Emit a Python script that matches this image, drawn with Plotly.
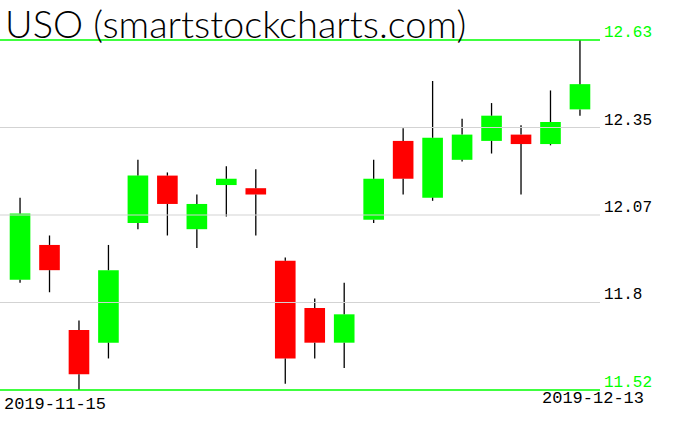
import plotly.graph_objects as go

# USO daily candles
dates = ["2019-11-15", "2019-11-18", "2019-11-19", "2019-11-20", "2019-11-21",
         "2019-11-22", "2019-11-25", "2019-11-26", "2019-11-27", "2019-11-29",
         "2019-12-02", "2019-12-03", "2019-12-04", "2019-12-05", "2019-12-06",
         "2019-12-09", "2019-12-10", "2019-12-11", "2019-12-12", "2019-12-13"]
opens = [11.87, 11.98, 11.71, 11.67, 12.05, 12.20, 12.03, 12.17, 12.16, 11.93,
         11.78, 11.67, 12.06, 12.31, 12.13, 12.25, 12.31, 12.33, 12.30, 12.41]
highs = [12.13, 12.01, 11.74, 11.98, 12.25, 12.21, 12.14, 12.23, 12.22, 11.94,
         11.81, 11.86, 12.25, 12.35, 12.50, 12.38, 12.43, 12.36, 12.47, 12.63]
lows = [11.86, 11.83, 11.52, 11.62, 12.03, 12.01, 11.97, 12.07, 12.01, 11.54,
        11.62, 11.59, 12.05, 12.14, 12.12, 12.245, 12.27, 12.14, 12.296, 12.39]
closes = [12.08, 11.90, 11.57, 11.90, 12.20, 12.11, 12.11, 12.19, 12.14, 11.62,
          11.67, 11.76, 12.19, 12.19, 12.32, 12.33, 12.39, 12.30, 12.37, 12.49]

# price scale labels on the right (ends are the low / high of the period)
tick_vals = [12.63, 12.3525, 12.075, 11.7975, 11.52]
tick_text = ["12.63", "12.35", "12.07", "11.8", "11.52"]

GREEN = "#00ff00"
RED = "#ff0000"
mono = "Liberation Mono"

# wicks: upper and lower piece per day so they don't cross the body
# (plotly puts bars under scatter lines)
wick_x, wick_y = [], []
for d, o, h, l, c in zip(dates, opens, highs, lows, closes):
    wick_x += [d, d, None, d, d, None]
    wick_y += [l, min(o, c), None, max(o, c), h, None]

body_colors = [GREEN if c >= o else RED for o, c in zip(opens, closes)]

fig = go.Figure()
fig.add_trace(go.Bar(x=dates, y=[c - o for o, c in zip(opens, closes)], base=opens,
                     width=0.7, marker=dict(color=body_colors, line=dict(width=0))))
fig.add_trace(go.Scatter(x=wick_x, y=wick_y, mode="lines",
                         line=dict(color="black", width=1.3), hoverinfo="skip"))

lo, hi = min(lows), max(highs)
pad = 0.0159
fig.update_xaxes(type="category", range=[-0.68, len(dates) - 0.32],
                 showgrid=False, showticklabels=False, zeroline=False, showline=False)
fig.update_yaxes(range=[lo - pad, hi + pad], showgrid=False, showticklabels=False,
                 zeroline=False, showline=False)

# grid lines sit over the bodies in the original
for v, t in zip(tick_vals, tick_text):
    edge = v in (lo, hi)
    fig.add_shape(type="line", xref="paper", x0=0, x1=1, yref="y", y0=v, y1=v,
                  line=dict(color=GREEN if edge else "#d3d3d3", width=1.3 if edge else 1),
                  layer="above")
    fig.add_annotation(text=t, xref="paper", x=1, xanchor="left", xshift=2,
                       yref="y", y=v, yanchor="bottom", yshift=-4, showarrow=False,
                       font=dict(family=mono, size=16, color=GREEN if edge else "black"))

fig.add_annotation(text=dates[0], xref="paper", x=0, xanchor="left", xshift=2,
                   yref="paper", y=0, yanchor="top", yshift=2, showarrow=False,
                   font=dict(family=mono, size=17, color="black"))
fig.add_annotation(text=dates[-1], xref="paper", x=1.077, xanchor="right",
                   yref="paper", y=0, yanchor="top", yshift=8, showarrow=False,
                   font=dict(family=mono, size=17, color="black"))

fig.update_layout(
    width=676, height=431,
    margin=dict(l=0, r=76, t=35, b=36),
    paper_bgcolor="white", plot_bgcolor="white",
    showlegend=False,
    title=dict(text="USO (smartstockcharts.com)", x=5 / 676, xanchor="left",
               xref="container", y=1 - 25 / 431, yanchor="middle",
               font=dict(family="Lato", weight=300, size=38, color="black")),
)

# the page's default body margin would push the chart 8px in
fig.write_html("out.html", config={"displayModeBar": False},
               post_script="document.body.style.margin='0';")
